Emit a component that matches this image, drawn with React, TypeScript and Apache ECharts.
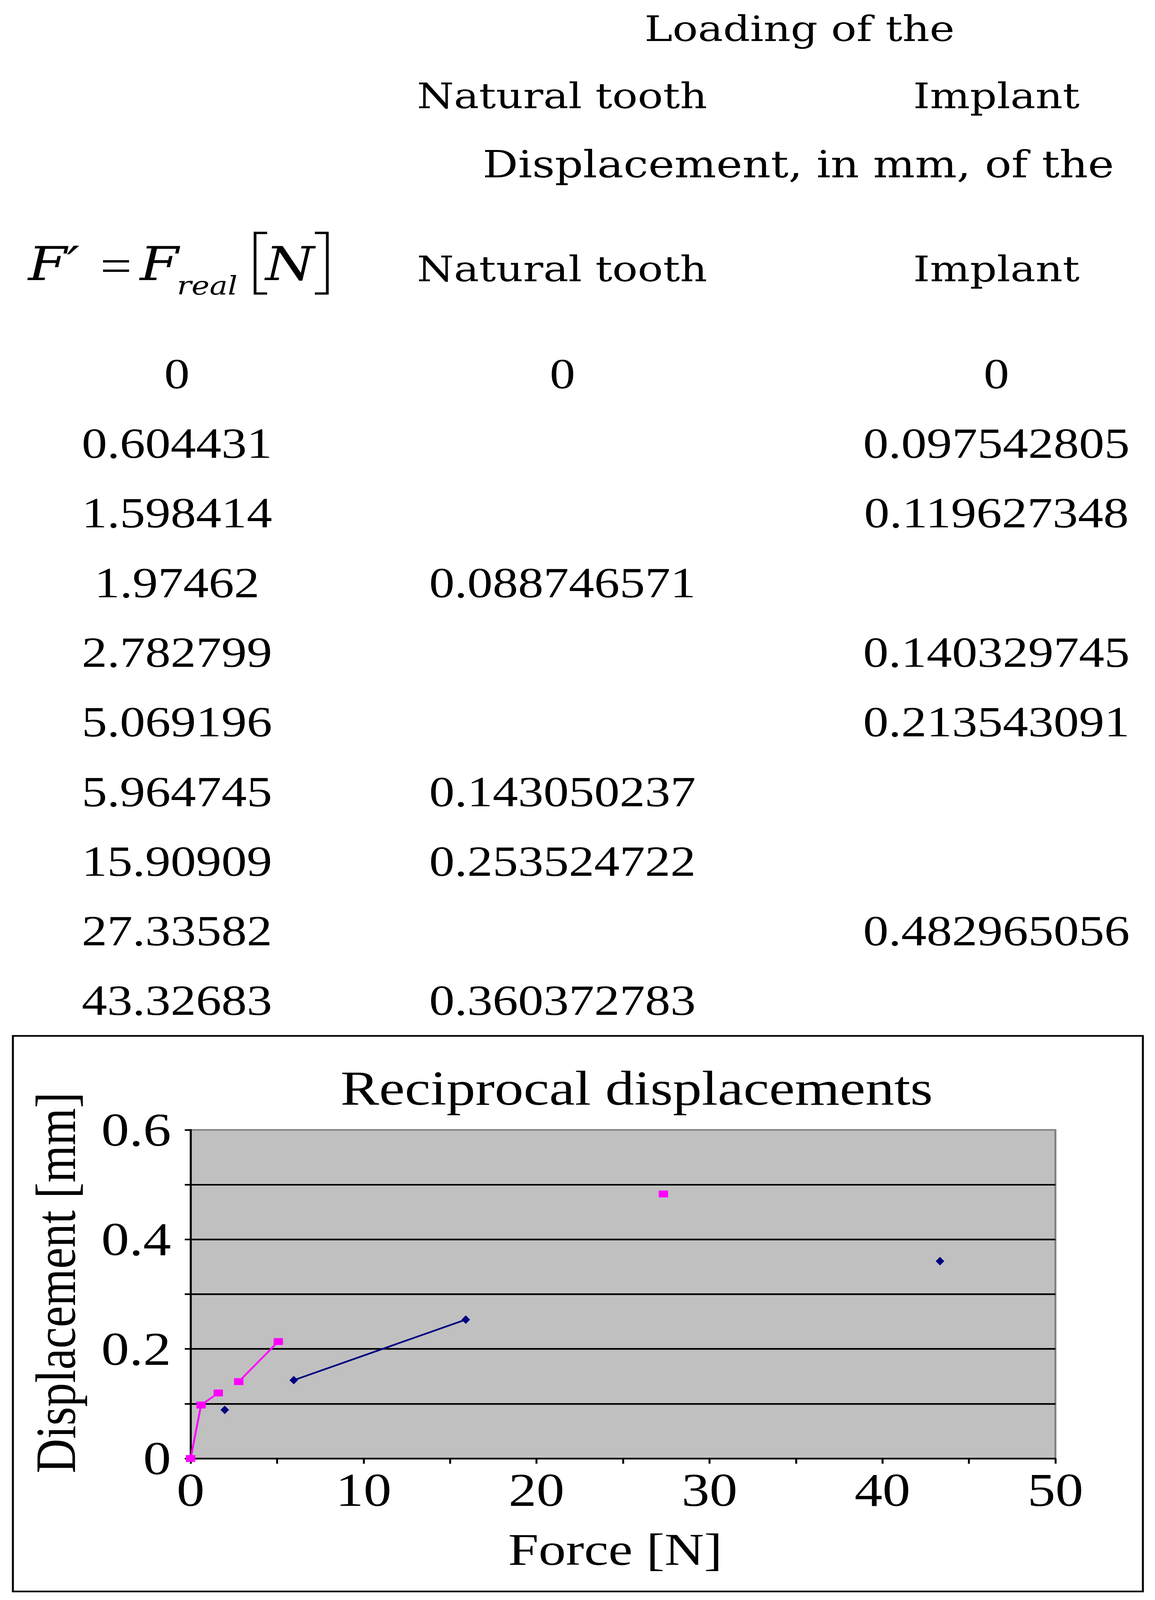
import React, { useEffect, useRef, useState } from "react";
import * as echarts from "echarts";

// ---------- data ----------
const forceN: number[] = [0, 0.604431, 1.598414, 1.97462, 2.782799, 5.069196, 5.964745, 15.90909, 27.33582, 43.32683];
const naturalTooth: (number | null)[] = [0, null, null, 0.088746571, null, null, 0.143050237, 0.253524722, null, 0.360372783];
const implant: (number | null)[] = [0, 0.097542805, 0.119627348, null, 0.140329745, 0.213543091, null, null, 0.482965056, null];

const xTickLabels: string[] = ["0", "10", "20", "30", "40", "50"];
const yTickLabels: string[] = ["0", "0.2", "0.4", "0.6"];

const headerLoading = "Loading of the";
const headerDisplacement = "Displacement, in mm, of the";
const colNatural = "Natural tooth";
const colImplant = "Implant";
const chartTitle = "Reciprocal displacements";
const xAxisName = "Force [N]";
const yAxisName = "Displacement [mm]";

const NAVY = "#000080";
const MAGENTA = "#FF00FF";
const HEAD_FONT = "DejaVu Serif";
const NUM_FONT = "Liberation Serif";
const CHART_FONT = "Liberation Serif";

const PAGE_W = 2957;
const PAGE_H = 4884;

function txt(x: number, y: number, text: string, size: number, opts: any = {}) {
  const align = opts.align || "center";
  return {
    type: "text",
    x,
    y,
    z: 10,
    rotation: opts.rotation || 0,
    style: {
      text,
      fill: "#000",
      fontFamily: opts.family || HEAD_FONT,
      fontSize: size,
      fontStyle: opts.italic ? "italic" : "normal",
      align,
      textAlign: align,
      verticalAlign: "middle",
      textVerticalAlign: "middle",
    },
  };
}

function buildGraphics() {
  const g: any[] = [];
  // header
  g.push(txt(2047, 88, headerLoading, 108));
  g.push(txt(1439, 293, colNatural, 108));
  g.push(txt(2551, 293, colImplant, 108));
  g.push(txt(2044, 502, headerDisplacement, 113));
  g.push(txt(1439, 821, colNatural, 108));
  g.push(txt(2551, 821, colImplant, 108));
  // formula F' = F_real [N]
  g.push(txt(72, 806, "F\u2032", 143, { italic: true, align: "left" }));
  g.push(txt(297, 812, "=", 143, { family: NUM_FONT }));
  g.push(txt(358, 806, "F", 143, { italic: true, align: "left" }));
  g.push(txt(453, 872, "real", 78, { italic: true, align: "left" }));
  g.push(txt(742, 806, "N", 143, { italic: true }));
  g.push({
    type: "polyline",
    z: 10,
    shape: { points: [[684, 711], [653, 711], [653, 896], [684, 896]] },
    style: { stroke: "#000", lineWidth: 7, fill: "none" },
  });
  g.push({
    type: "polyline",
    z: 10,
    shape: { points: [[806, 711], [838, 711], [838, 896], [806, 896]] },
    style: { stroke: "#000", lineWidth: 7, fill: "none" },
  });
  // table rows
  const colX = [453, 1440, 2551];
  const rowY0 = 1141;
  const rowStep = 212.6;
  forceN.forEach((f, i) => {
    const y = rowY0 + i * rowStep;
    g.push(txt(colX[0], y, String(f), 130, { family: NUM_FONT }));
    if (naturalTooth[i] !== null) g.push(txt(colX[1], y, String(naturalTooth[i]), 130, { family: NUM_FONT }));
    if (implant[i] !== null) g.push(txt(colX[2], y, String(implant[i]), 130, { family: NUM_FONT }));
  });
  // chart frame
  g.push({
    type: "rect",
    z: 1,
    shape: { x: 33, y: 3162, width: 2893, height: 1696 },
    style: { fill: "none", stroke: "#000", lineWidth: 5 },
  });
  // chart title
  g.push(txt(1630, 3322, chartTitle, 148, { family: CHART_FONT }));
  return g;
}

function seriesData(values: (number | null)[]) {
  return forceN.map((f, i) => [f, values[i] === null ? "-" : values[i]]);
}

export default function App() {
  const ref = useRef<HTMLDivElement>(null);
  const [scaleY, setScaleY] = useState(() =>
    typeof window !== "undefined" ? Math.min(1, window.innerHeight / PAGE_H) : 1
  );
  useEffect(() => {
    document.body.style.margin = "0";
    document.body.style.overflow = "hidden";
    setScaleY(Math.min(1, window.innerHeight / PAGE_H));
    if (!ref.current) return;
    const chart = echarts.init(ref.current, undefined, { renderer: "svg" });
    chart.setOption({
      animation: false,
      backgroundColor: "#ffffff",
      grid: {
        left: 488,
        top: 3449,
        width: 2214,
        height: 1003,
        show: true,
        backgroundColor: "#C0C0C0",
        borderColor: "#808080",
        borderWidth: 5,
        containLabel: false,
      },
      xAxis: {
        type: "value",
        min: 0,
        max: 50,
        interval: 5,
        name: xAxisName,
        nameLocation: "middle",
        nameGap: 208,
        nameTextStyle: { fontFamily: CHART_FONT, fontSize: 140, color: "#000", padding: [0, 40, 0, 0] },
        axisLine: { show: true, onZero: false, lineStyle: { color: "#000", width: 5 } },
        axisTick: { show: true, length: 16, inside: false, lineStyle: { color: "#000", width: 5 } },
        axisLabel: {
          margin: 25,
          fontFamily: CHART_FONT,
          fontSize: 143,
          color: "#000",
          formatter: (v: number) => {
            const s = String(Math.round(v));
            return xTickLabels.includes(s) ? s : "";
          },
        },
        splitLine: { show: false },
      },
      yAxis: {
        type: "value",
        min: 0,
        max: 0.6,
        interval: 0.1,
        name: yAxisName,
        nameLocation: "middle",
        nameRotate: 90,
        nameGap: 272,
        nameTextStyle: { fontFamily: CHART_FONT, fontSize: 146, color: "#000", padding: [0, 0, 0, 70] },
        axisLine: { show: true, onZero: false, lineStyle: { color: "#000", width: 5 } },
        axisTick: { show: true, length: 15, inside: false, lineStyle: { color: "#000", width: 5 } },
        axisLabel: {
          margin: 50,
          fontFamily: CHART_FONT,
          fontSize: 143,
          color: "#000",
          formatter: (v: number) => {
            const s = String(Math.round(v * 10) / 10);
            return yTickLabels.includes(s) ? s : "";
          },
        },
        splitLine: { show: true, showMinLine: false, showMaxLine: false, lineStyle: { color: "#000", width: 5 } },
      },
      graphic: buildGraphics(),
      series: [
        {
          type: "line",
          name: "Natural tooth",
          data: seriesData(naturalTooth),
          connectNulls: false,
          clip: false,
          symbol: "diamond",
          symbolSize: [22, 26],
          showAllSymbol: true,
          itemStyle: { color: NAVY },
          lineStyle: { color: NAVY, width: 5 },
          z: 3,
        },
        {
          type: "line",
          name: "Implant",
          data: seriesData(implant),
          connectNulls: false,
          clip: false,
          symbol: "rect",
          symbolSize: [24, 21],
          showAllSymbol: true,
          itemStyle: { color: MAGENTA },
          lineStyle: { color: MAGENTA, width: 5 },
          z: 4,
        },
      ],
    });
    return () => chart.dispose();
  }, []);
  return (
    <div
      style={{
        position: "absolute",
        left: 0,
        top: 0,
        width: PAGE_W,
        height: PAGE_H,
        transform: `scaleY(${scaleY})`,
        transformOrigin: "0 0",
        background: "#fff",
      }}
    >
      <div ref={ref} style={{ width: PAGE_W, height: PAGE_H }} />
    </div>
  );
}
